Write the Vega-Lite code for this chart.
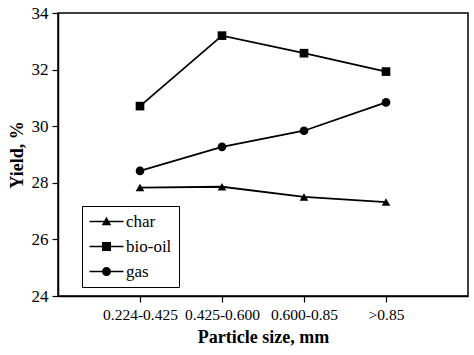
{
  "$schema": "https://vega.github.io/schema/vega-lite/v6.json",
  "autosize": "none",
  "width": 410,
  "height": 283,
  "padding": {"left": 58, "top": 13, "right": 6, "bottom": 59},
  "background": "white",
  "config": {
    "font": "Liberation Serif",
    "view": {"stroke": "black", "strokeWidth": 1.5},
    "axis": {
      "grid": false,
      "domainColor": "black",
      "domainWidth": 1.5,
      "tickColor": "black",
      "tickWidth": 1.2,
      "tickSize": 6,
      "labelColor": "black",
      "labelFont": "Liberation Serif",
      "labelFontSize": 17,
      "titleColor": "black",
      "titleFont": "Liberation Serif",
      "titleFontSize": 18,
      "titleFontWeight": "bold"
    },
    "legend": {"labelFont": "Liberation Serif", "labelFontSize": 17}
  },
  "data": {
    "values": [
      {"size": "0.224-0.425", "series": "char", "yield": 27.83},
      {"size": "0.425-0.600", "series": "char", "yield": 27.86},
      {"size": "0.600-0.85", "series": "char", "yield": 27.5},
      {"size": ">0.85", "series": "char", "yield": 27.32},
      {"size": "0.224-0.425", "series": "bio-oil", "yield": 30.71},
      {"size": "0.425-0.600", "series": "bio-oil", "yield": 33.2},
      {"size": "0.600-0.85", "series": "bio-oil", "yield": 32.58},
      {"size": ">0.85", "series": "bio-oil", "yield": 31.93},
      {"size": "0.224-0.425", "series": "gas", "yield": 28.42},
      {"size": "0.425-0.600", "series": "gas", "yield": 29.27},
      {"size": "0.600-0.85", "series": "gas", "yield": 29.84},
      {"size": ">0.85", "series": "gas", "yield": 30.84}
    ]
  },
  "encoding": {
    "x": {
      "field": "size",
      "type": "ordinal",
      "sort": ["0.224-0.425", "0.425-0.600", "0.600-0.85", ">0.85"],
      "scale": {"type": "point", "padding": 1},
      "axis": {"title": "Particle size, mm", "labelAngle": 0, "labelFontSize": 15.5, "labelPadding": 5, "titlePadding": 6}
    },
    "y": {
      "field": "yield",
      "type": "quantitative",
      "scale": {"domain": [24, 34], "nice": false, "zero": false},
      "axis": {"title": "Yield, %", "values": [24, 26, 28, 30, 32, 34], "labelPadding": 4, "titlePadding": 5}
    }
  },
  "layer": [
    {
      "mark": {"type": "line", "color": "black", "strokeWidth": 1.8},
      "encoding": {"detail": {"field": "series"}}
    },
    {
      "mark": {"type": "point", "filled": true, "color": "black", "opacity": 1, "size": 75},
      "encoding": {
        "shape": {
          "field": "series",
          "type": "nominal",
          "scale": {"domain": ["char", "bio-oil", "gas"], "range": ["triangle-up", "square", "circle"]},
          "legend": null
        }
      }
    },
    {
      "mark": {"type": "point", "filled": true, "color": "black", "opacity": 0, "size": 100},
      "encoding": {
        "shape": {
          "field": "series",
          "type": "nominal",
          "scale": {
            "domain": ["char", "bio-oil", "gas"],
            "range": [
              "M-1.6,-0.17H5.2V0.17H-1.6ZM1.8,-0.95L2.75,0.75H0.85Z",
              "M-1.6,-0.17H5.2V0.17H-1.6ZM0.9,-0.9H2.7V0.9H0.9Z",
              "M-1.6,-0.17H5.2V0.17H-1.6ZM0.9,0A0.9,0.9,0,1,1,2.7,0A0.9,0.9,0,1,1,0.9,0Z"
            ]
          },
          "legend": {
            "title": null,
            "orient": "none",
            "legendX": 24,
            "legendY": 193,
            "padding": 7,
            "strokeColor": "black",
            "fillColor": "white",
            "labelColor": "black",
            "labelOffset": 20,
            "rowPadding": 7,
            "symbolSize": 100,
            "symbolFillColor": "black",
            "symbolOpacity": 1,
            "encoding": {"symbols": {"update": {
              "opacity": {"value": 1},
              "fill": {"value": "black"}
            }}}
          }
        }
      }
    }
  ],
  "resolve": {"scale": {"shape": "independent"}}
}
